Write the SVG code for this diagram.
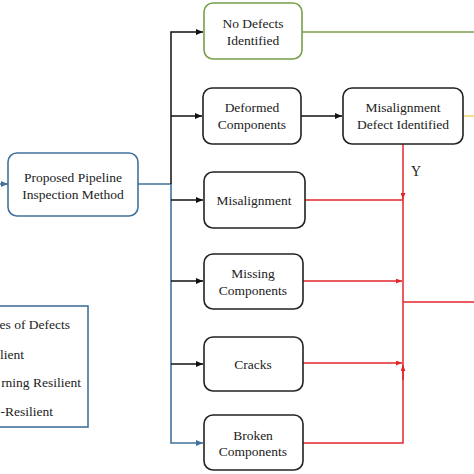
<svg xmlns="http://www.w3.org/2000/svg" width="474" height="474" viewBox="0 0 474 474">
<style>
.box{fill:#fff;stroke:#222;stroke-width:1.6}
.txt{font-family:'Liberation Serif','DejaVu Serif',serif;font-size:13.5px;fill:#222;text-anchor:middle}
.leg{font-family:'Liberation Serif','DejaVu Serif',serif;font-size:13.5px;fill:#222;text-anchor:end}
.k{stroke:#111;stroke-width:1.5;fill:none}
.b{stroke:#41719C;stroke-width:1.6;fill:none}
.r{stroke:#E3262B;stroke-width:1.5;fill:none}
</style>
<defs>
<marker id="ak" markerWidth="7" markerHeight="6" refX="7" refY="3" orient="auto" markerUnits="userSpaceOnUse"><path d="M0,0 L7,3 L0,6 Z" fill="#111"/></marker>
<marker id="ab" markerWidth="7" markerHeight="6" refX="7" refY="3" orient="auto" markerUnits="userSpaceOnUse"><path d="M0,0 L7,3 L0,6 Z" fill="#41719C"/></marker>
<marker id="ar" markerWidth="6" markerHeight="5" refX="6" refY="2.5" orient="auto" markerUnits="userSpaceOnUse"><path d="M0,0 L6,2.5 L0,5 Z" fill="#E3262B"/></marker>
</defs>
<rect width="474" height="474" fill="#fff"/>
<g id="connectors">
<path class="b" d="M0,184 L8,184" marker-end="url(#ab)"/>
<path class="b" d="M138,184 L171,184 L171,443 L203,443" marker-end="url(#ab)"/>
<path class="k" d="M171,184 L171,32 L203,32" marker-end="url(#ak)"/>
<path class="k" d="M171,116 L202,116" marker-end="url(#ak)"/>
<path class="k" d="M171,200 L203,200" marker-end="url(#ak)"/>
<path class="k" d="M171,281 L203,281" marker-end="url(#ak)"/>
<path class="k" d="M171,364 L203,364" marker-end="url(#ak)"/>
<path class="k" d="M301,116 L342,116" marker-end="url(#ak)"/>
<path d="M302,32 L474,32" stroke="#77A04A" stroke-width="1.5" fill="none"/>
<path d="M463,116 L474,116" stroke="#F2D36B" stroke-width="1.5" fill="none"/>
<path class="r" d="M403,144 L403,199" marker-end="url(#ar)"/>
<path class="r" d="M403,198 L403,443 L303,443"/>
<path class="r" d="M305,200 L403,200"/>
<path class="r" d="M303,281 L402,281" marker-end="url(#ar)"/>
<path class="r" d="M303,363 L402,363" marker-end="url(#ar)"/>
<path class="r" d="M403,380 L403,365" marker-end="url(#ar)"/>
<path class="r" d="M403,302 L474,302"/>
<text x="411" y="176" class="txt" style="text-anchor:start;font-size:14px">Y</text>
</g>
<g id="proposed">
<rect x="8" y="153" width="130" height="63" rx="9" class="box" style="stroke:#41719C"/>
<text x="73" y="182" class="txt">Proposed Pipeline</text>
<text x="73" y="199" class="txt">Inspection Method</text>
</g>
<g id="no-defects">
<rect x="204" y="3" width="98" height="56" rx="9" class="box" style="stroke:#77A04A"/>
<text x="253" y="28" class="txt">No Defects</text>
<text x="253" y="45" class="txt">Identified</text>
</g>
<g id="deformed">
<rect x="203" y="88" width="98" height="56" rx="9" class="box"/>
<text x="252" y="112" class="txt">Deformed</text>
<text x="252" y="129" class="txt">Components</text>
</g>
<g id="misalignment-defect">
<rect x="343" y="88" width="120" height="56" rx="9" class="box"/>
<text x="403" y="112" class="txt">Misalignment</text>
<text x="403" y="129" class="txt">Defect Identified</text>
</g>
<g id="misalignment">
<rect x="204" y="172" width="101" height="56" rx="9" class="box"/>
<text x="254" y="205" class="txt">Misalignment</text>
</g>
<g id="missing">
<rect x="204" y="254" width="99" height="55" rx="9" class="box"/>
<text x="253" y="278" class="txt">Missing</text>
<text x="253" y="295" class="txt">Components</text>
</g>
<g id="cracks">
<rect x="204" y="337" width="99" height="54" rx="9" class="box"/>
<text x="253" y="369" class="txt">Cracks</text>
</g>
<g id="broken">
<rect x="204" y="415" width="99" height="55" rx="9" class="box"/>
<text x="253" y="440" class="txt">Broken</text>
<text x="253" y="456" class="txt">Components</text>
</g>
<g id="legend">
<rect x="-10" y="306" width="98" height="121" fill="#fff" stroke="#41719C" stroke-width="1.6"/>
<text x="70" y="329" class="leg">es of Defects</text>
<text x="24" y="359" class="leg">lient</text>
<text x="81" y="387" class="leg">rning Resilient</text>
<text x="53" y="416" class="leg">-Resilient</text>
</g>
</svg>
